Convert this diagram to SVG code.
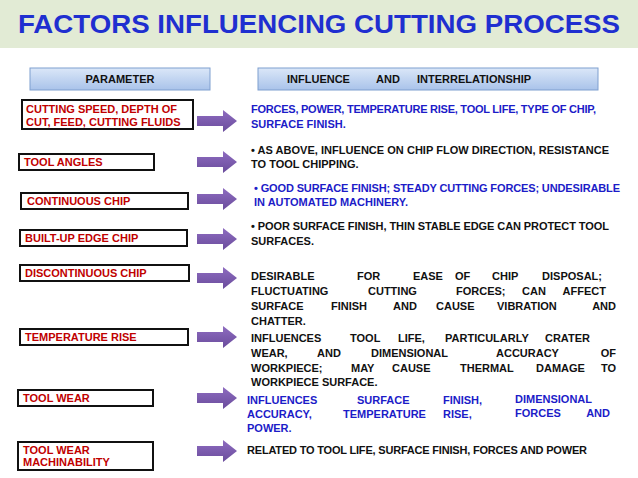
<svg xmlns="http://www.w3.org/2000/svg" width="638" height="478" viewBox="0 0 638 478">
<defs>
<style>
text{font-family:"Liberation Sans",Arial,sans-serif;font-weight:bold;font-size:11px}
.l{fill:#c00000}.b{fill:#1c1cc8}.k{fill:#111}
.e{text-anchor:end}
.box{fill:#fff;stroke:#111;stroke-width:2}
.hd{fill:url(#hg);stroke:#7f9fcf;stroke-width:1}
</style>
<linearGradient id="hg" x1="0" y1="0" x2="0" y2="1"><stop offset="0" stop-color="#dbe7f8"/><stop offset="1" stop-color="#a9c3ea"/></linearGradient>
<linearGradient id="ag" x1="0" y1="0" x2="0" y2="1"><stop offset="0" stop-color="#8e6cc0"/><stop offset="1" stop-color="#6a4c9c"/></linearGradient>
<path id="ar" d="M0,-5 H26 V-11 L40,0 L26,11 V5 H0 Z" fill="url(#ag)"/>
</defs>
<rect width="638" height="478" fill="#fff"/>
<rect width="638" height="48" fill="#e2ebd5"/>
<text x="18" y="33" textLength="602" lengthAdjust="spacingAndGlyphs" style="font-size:26px;fill:#1f2fd0">FACTORS INFLUENCING CUTTING PROCESS</text>
<g id="hdr-param"><rect class="hd" x="30" y="68" width="180" height="22"/><text class="k" x="120" y="83" text-anchor="middle">PARAMETER</text></g>
<g id="hdr-infl"><rect class="hd" x="258" y="68" width="340" height="22"/><text class="k" x="287" y="83">INFLUENCE</text><text class="k" x="376" y="83">AND</text><text class="k" x="417" y="83">INTERRELATIONSHIP</text></g>
<g id="n1"><rect class="box" x="22" y="100" width="171" height="29"/><text class="l" x="26" y="113">CUTTING SPEED, DEPTH OF</text><text class="l" x="26" y="126">CUT, FEED, CUTTING FLUIDS</text></g>
<g id="n2"><rect class="box" x="19" y="154" width="135" height="16"/><text class="l" x="24" y="166">TOOL ANGLES</text></g>
<g id="n3"><rect class="box" x="21" y="193" width="167" height="16"/><text class="l" x="27" y="205">CONTINUOUS CHIP</text></g>
<g id="n4"><rect class="box" x="20" y="230" width="167" height="16"/><text class="l" x="25" y="242">BUILT-UP EDGE CHIP</text></g>
<g id="n5"><rect class="box" x="20" y="265" width="169" height="16"/><text class="l" x="25" y="277">DISCONTINUOUS CHIP</text></g>
<g id="n6"><rect class="box" x="20" y="329" width="168" height="16"/><text class="l" x="25" y="341">TEMPERATURE RISE</text></g>
<g id="n7"><rect class="box" x="18" y="390" width="135" height="16"/><text class="l" x="23" y="402">TOOL WEAR</text></g>
<g id="n8"><rect class="box" x="18" y="442" width="135" height="28"/><text class="l" x="23" y="454">TOOL WEAR</text><text class="l" x="23" y="466">MACHINABILITY</text></g>
<g id="connectors">
<use href="#ar" x="197" y="121"/><use href="#ar" x="197" y="162"/><use href="#ar" x="197" y="199"/><use href="#ar" x="197" y="239"/><use href="#ar" x="197" y="278"/><use href="#ar" x="197" y="337"/><use href="#ar" x="197" y="398"/><use href="#ar" x="197" y="451"/>
</g>
<g id="t1"><text class="b" x="251" y="113" textLength="345" lengthAdjust="spacing">FORCES, POWER, TEMPERATURE RISE, TOOL LIFE, TYPE OF CHIP,</text><text class="b" x="251" y="128">SURFACE FINISH.</text></g>
<g id="t2"><text class="k" x="251" y="154" textLength="358" lengthAdjust="spacing">•  AS ABOVE, INFLUENCE ON CHIP FLOW DIRECTION, RESISTANCE</text><text class="k" x="251" y="168">TO TOOL CHIPPING.</text></g>
<g id="t3"><text class="b" x="254" y="192" textLength="366" lengthAdjust="spacing">•  GOOD SURFACE FINISH; STEADY CUTTING FORCES; UNDESIRABLE</text><text class="b" x="254" y="206">IN AUTOMATED MACHINERY.</text></g>
<g id="t4"><text class="k" x="251" y="230" textLength="358" lengthAdjust="spacing">•  POOR SURFACE FINISH, THIN STABLE EDGE CAN PROTECT TOOL</text><text class="k" x="251" y="245">SURFACES.</text></g>
<g id="t5" class="k">
<text x="251" y="280">DESIRABLE</text><text x="357" y="280">FOR</text><text x="413" y="280">EASE</text><text x="455" y="280">OF</text><text x="492" y="280">CHIP</text><text class="e" x="602" y="280">DISPOSAL;</text>
<text x="251" y="295">FLUCTUATING</text><text x="368" y="295">CUTTING</text><text x="456" y="295">FORCES;</text><text x="522" y="295">CAN</text><text class="e" x="606" y="295">AFFECT</text>
<text x="251" y="310">SURFACE</text><text x="331" y="310">FINISH</text><text x="393" y="310">AND</text><text x="436" y="310">CAUSE</text><text x="497" y="310">VIBRATION</text><text class="e" x="616" y="310">AND</text>
<text x="251" y="325">CHATTER.</text></g>
<g id="t6" class="k">
<text x="251" y="342">INFLUENCES</text><text x="350" y="342">TOOL</text><text x="398" y="342">LIFE,</text><text x="445" y="342">PARTICULARLY</text><text class="e" x="590" y="342">CRATER</text>
<text x="251" y="357">WEAR,</text><text x="317" y="357">AND</text><text x="371" y="357">DIMENSIONAL</text><text x="496" y="357">ACCURACY</text><text class="e" x="616" y="357">OF</text>
<text x="251" y="372">WORKPIECE;</text><text x="351" y="372">MAY</text><text x="392" y="372">CAUSE</text><text x="460" y="372">THERMAL</text><text x="536" y="372">DAMAGE</text><text class="e" x="616" y="372">TO</text>
<text x="251" y="386">WORKPIECE SURFACE.</text></g>
<g id="t7"><text class="b" x="247" y="404">INFLUENCES</text><text class="b" x="357" y="404">SURFACE</text><text class="b" x="443" y="404">FINISH,</text><text class="b" x="247" y="418">ACCURACY,</text><text class="b" x="343" y="418">TEMPERATURE</text><text class="b" x="443" y="418">RISE,</text><text class="b" x="247" y="432">POWER.</text><text class="b" x="515" y="403">DIMENSIONAL</text><text class="b" x="515" y="417">FORCES</text><text class="b e" x="610" y="417">AND</text></g>
<g id="t8"><text class="k" x="247" y="454" textLength="340" lengthAdjust="spacing">RELATED TO TOOL LIFE, SURFACE FINISH, FORCES AND POWER</text></g>
</svg>
